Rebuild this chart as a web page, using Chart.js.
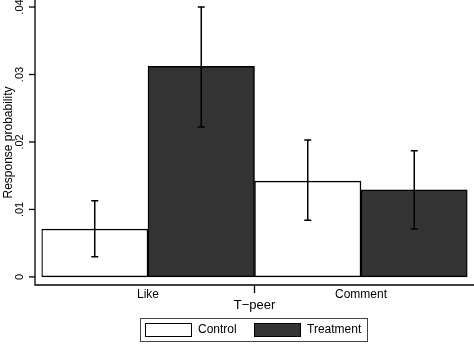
<!DOCTYPE html>
<html>
<head>
<meta charset="utf-8">
<script src="https://cdn.jsdelivr.net/npm/chart.js@4"></script>
<style>
  html, body { margin: 0; padding: 0; background: #fff; }
</style>
</head>
<body>
<canvas id="chart" width="474" height="345"></canvas>
<script>
// data
const categories = ['Like', 'Comment'];
const seriesNames = ['Control', 'Treatment'];
const controlMean = [0.0071, 0.0142];
const controlLow = [0.0030, 0.0084];
const controlHigh = [0.0113, 0.0203];
const treatMean = [0.0312, 0.0129];
const treatLow = [0.0222, 0.0071];
const treatHigh = [0.0400, 0.0187];
const yTicks = [0, 0.01, 0.02, 0.03, 0.04];
const yTickLabels = ['0', '.01', '.02', '.03', '.04'];

const FONT = "'Liberation Sans', Arial, Helvetica, sans-serif";
const errLow = [controlLow, treatLow];
const errHigh = [controlHigh, treatHigh];

// axes, rotated y labels, error bars and the boxed legend (Stata look)
const stataBits = {
  id: 'stataBits',
  afterDatasetsDraw(chart) {
    const ctx = chart.ctx;
    const x = chart.scales.x, y = chart.scales.y;
    const area = chart.chartArea;
    const axisX = 35, axisY = area.bottom;
    ctx.save();
    ctx.strokeStyle = '#000';
    ctx.fillStyle = '#000';

    // error bars
    ctx.lineWidth = 1.5;
    chart.data.datasets.forEach((ds, d) => {
      const meta = chart.getDatasetMeta(d);
      meta.data.forEach((bar, i) => {
        const yl = y.getPixelForValue(errLow[d][i]);
        const yh = y.getPixelForValue(errHigh[d][i]);
        ctx.beginPath();
        ctx.moveTo(bar.x, yl); ctx.lineTo(bar.x, yh);
        ctx.moveTo(bar.x - 3.5, yl); ctx.lineTo(bar.x + 3.5, yl);
        ctx.moveTo(bar.x - 3.5, yh); ctx.lineTo(bar.x + 3.5, yh);
        ctx.stroke();
      });
    });

    // axis lines
    ctx.lineWidth = 1.3;
    ctx.beginPath();
    ctx.moveTo(axisX, 0); ctx.lineTo(axisX, axisY);
    ctx.lineTo(chart.width, axisY);
    ctx.stroke();

    // x tick between the groups
    const mid = (x.getPixelForValue(0) + x.getPixelForValue(1)) / 2;
    ctx.beginPath();
    ctx.moveTo(mid, axisY); ctx.lineTo(mid, axisY + 8);
    ctx.stroke();

    // y ticks + rotated labels
    ctx.font = '11px ' + FONT;
    ctx.textAlign = 'center';
    ctx.textBaseline = 'middle';
    yTicks.forEach((v, i) => {
      const py = y.getPixelForValue(v);
      ctx.beginPath();
      ctx.moveTo(axisX - 6, py); ctx.lineTo(axisX, py);
      ctx.stroke();
      ctx.save();
      ctx.translate(20, py);
      ctx.rotate(-Math.PI / 2);
      ctx.fillText(yTickLabels[i], 0, 0);
      ctx.restore();
    });

    // legend
    ctx.lineWidth = 1;
    ctx.strokeStyle = '#444';
    ctx.strokeRect(140.5, 318.5, 227, 23);
    ctx.font = '12px ' + FONT;
    ctx.textAlign = 'left';
    const sw = [145, 254];
    chart.data.datasets.forEach((ds, d) => {
      ctx.fillStyle = ds.backgroundColor;
      ctx.fillRect(sw[d], 323, 46, 13);
      ctx.strokeStyle = '#000';
      ctx.strokeRect(sw[d] + 0.5, 323.5, 46, 13);
      ctx.fillStyle = '#000';
      ctx.fillText(ds.label, sw[d] + 53, 330);
    });
    ctx.restore();
  }
};

new Chart(document.getElementById('chart'), {
  type: 'bar',
  data: {
    labels: categories,
    datasets: [
      { label: seriesNames[0], data: controlMean, backgroundColor: '#ffffff' },
      { label: seriesNames[1], data: treatMean, backgroundColor: '#333333' }
    ]
  },
  options: {
    responsive: false,
    animation: false,
    events: [],
    devicePixelRatio: 1,
    layout: { padding: { left: 0, right: 6.5, top: 0, bottom: 32 } },
    datasets: {
      bar: {
        borderColor: '#000',
        borderWidth: 1.5,
        borderSkipped: false,
        categoryPercentage: 1,
        barPercentage: 1
      }
    },
    plugins: { legend: { display: false }, tooltip: { enabled: false } },
    scales: {
      x: {
        grid: { display: false, drawTicks: false, tickLength: 0 },
        border: { display: false },
        ticks: { color: '#000', padding: 2, font: { family: FONT, size: 12 } },
        title: { display: true, text: 'T\u2212peer', color: '#000', padding: 0,
                 font: { family: FONT, size: 13 } },
        afterFit(s) { s.height = 28; }
      },
      y: {
        min: -0.0012,
        max: 0.04104,
        grid: { display: false },
        border: { display: false },
        ticks: { display: false },
        afterBuildTicks(s) { s.ticks = yTicks.map(v => ({ value: v })); },
        title: { display: true, text: 'Response probability', color: '#000', padding: 1,
                 font: { family: FONT, size: 12 } },
        afterFit(s) { s.width = 41.5; }
      }
    }
  },
  plugins: [stataBits]
});
</script>
</body>
</html>
